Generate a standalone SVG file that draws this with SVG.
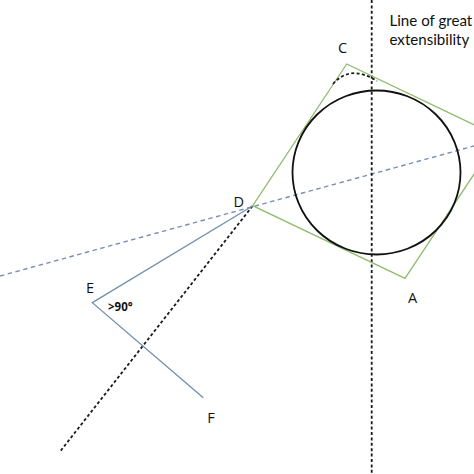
<svg xmlns="http://www.w3.org/2000/svg" width="474" height="474" viewBox="0 0 474 474">
<style>
.lbl{font-family:"Open Sans","Liberation Sans",sans-serif;font-size:14.5px;fill:#111;text-anchor:middle}
.note{font-family:Lato,"Open Sans",sans-serif;font-size:15.1px;fill:#111}
.ang{font-family:"Open Sans","Liberation Sans",sans-serif;font-size:11.5px;font-weight:bold;fill:#111}
.green{fill:none;stroke:#8fbb6c;stroke-width:1.3}
.blk{fill:none;stroke:#1a1a1a;stroke-width:1.8;stroke-dasharray:3 2.4}
.bluedash{fill:none;stroke:#7a8cb8;stroke-width:1.4;stroke-dasharray:4.5 3.5}
.blue{fill:none;stroke:#6f8fae;stroke-width:1.3}
</style>
<rect width="474" height="474" fill="#fff"/>
<g id="connectors">
<line class="bluedash" x1="0" y1="276" x2="474" y2="146"/>
<line class="blk" x1="371.7" y1="0" x2="371.7" y2="474"/>
<line class="blk" x1="252.5" y1="206" x2="60.5" y2="451"/>
<polyline class="blue" points="252.5,206 92.3,302.7 203.3,397.7"/>
</g>
<g id="square">
<polygon class="green" points="346.7,64 252.7,205.7 405,278.3 499,136.6"/>
</g>
<g id="circle">
<ellipse cx="376.5" cy="172.5" rx="84" ry="82" fill="none" stroke="#111" stroke-width="1.8"/>
</g>
<g id="arc">
<path class="blk" d="M333,84 Q350,64 377,81" stroke-width="1.6"/>
</g>
<g id="labels">
<text class="lbl" x="342.5" y="52.7">C</text>
<text class="lbl" x="238.7" y="207.3">D</text>
<text class="lbl" x="412.5" y="302.7">A</text>
<text class="lbl" x="90" y="292.5">E</text>
<text class="lbl" x="211" y="422.7">F</text>
<text class="ang" x="108" y="311">&gt;90°</text>
<text class="note" x="389.5" y="25.5">Line of great</text>
<text class="note" x="389.5" y="45">extensibility</text>
</g>
</svg>
